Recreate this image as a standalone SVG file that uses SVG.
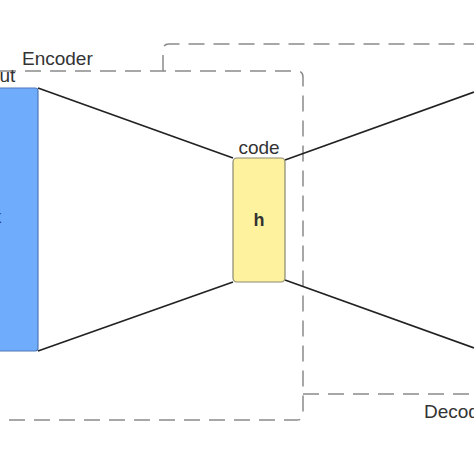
<svg xmlns="http://www.w3.org/2000/svg" width="474" height="474" viewBox="0 0 474 474">
<style>
.dash{fill:none;stroke:#8a8a8a;stroke-width:1.5;stroke-dasharray:16 9}
.lbl{font-family:"Liberation Sans",Arial,sans-serif;font-size:19px;fill:#333}
.ln{stroke:#222;stroke-width:1.8;fill:none}
</style>
<rect width="474" height="474" fill="#fff"/>
<g id="encoder-frame">
<path class="dash" d="M0 71 H297 Q303 71 303 77 V414 Q303 420 297 420 H0"/>
<text class="lbl" x="22" y="65">Encoder</text>
</g>
<g id="decoder-frame">
<path class="dash" d="M163 71 V50 Q163 44 169 44 H474"/>
<path class="dash" d="M303 394 H474"/>
<text class="lbl" x="424" y="418">Decoder</text>
</g>
<g id="connectors">
<line class="ln" x1="38" y1="88" x2="233" y2="158"/>
<line class="ln" x1="38" y1="351" x2="233" y2="282"/>
<line class="ln" x1="285" y1="160" x2="474" y2="92"/>
<line class="ln" x1="285" y1="280" x2="474" y2="348"/>
</g>
<g id="input">
<rect x="-10" y="88" width="48" height="263" rx="3" fill="#70acfc" stroke="#4f78b8" stroke-width="1.2"/>
<text class="lbl" x="-27" y="82">Input</text>
<text class="lbl" x="-8" y="223">x</text>
</g>
<g id="code">
<rect x="233" y="158" width="52" height="124" rx="4" fill="#fff29e" stroke="#8a8770" stroke-width="1.2"/>
<text class="lbl" x="259" y="154" text-anchor="middle">code</text>
<text x="259" y="226" text-anchor="middle" font-family="Liberation Sans,Arial,sans-serif" font-weight="bold" font-size="18" fill="#333">h</text>
</g>
</svg>
